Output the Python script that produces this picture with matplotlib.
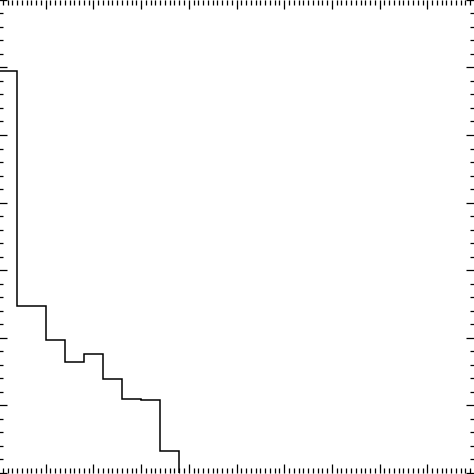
import numpy as np
import matplotlib.pyplot as plt
from matplotlib.ticker import MultipleLocator

# Bin edges and heights
bin_edges = [0.0, 0.4, 1.0, 1.4, 1.8, 2.2, 2.6, 3.0, 3.4, 3.8]
bin_heights = [5.95, 2.475, 1.963, 1.642, 1.756, 1.391, 1.099, 1.080, 0.330]

x_range = (0, 10)
y_range = (0, 7)

fig = plt.figure(figsize=(4.74, 4.74), dpi=100)
# axes box sits a little past the figure edges, like the reference
ax = fig.add_axes([-2 / 474, 1 / 474, 477 / 474, 473.2 / 474])

ax.stairs(bin_heights, bin_edges, baseline=0, color='black', linewidth=1.1)

ax.set_xlim(*x_range)
ax.set_ylim(*y_range)

ax.xaxis.set_major_locator(MultipleLocator(1))
ax.xaxis.set_minor_locator(MultipleLocator(0.1))
ax.yaxis.set_major_locator(MultipleLocator(1))
ax.yaxis.set_minor_locator(MultipleLocator(0.2))

ax.tick_params(which='both', direction='in', top=True, right=True,
               labelbottom=False, labelleft=False, color='black', width=0.9)
ax.tick_params(which='major', length=6.8)
ax.tick_params(which='minor', length=3.6)

for s in ax.spines.values():
    s.set_visible(False)

fig.savefig('out.png', dpi=100)
